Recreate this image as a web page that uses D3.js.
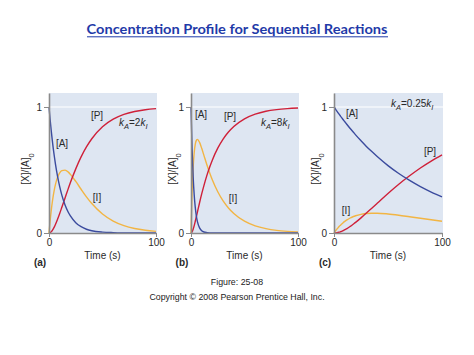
<!DOCTYPE html>
<html>
<head>
<meta charset="utf-8">
<script src="https://cdn.jsdelivr.net/npm/d3@7"></script>
<style>
  html, body { margin: 0; padding: 0; background: #fff; }
  svg { display: block; }
  text { font-family: "Liberation Sans", Arial, sans-serif; }
</style>
</head>
<body>
<svg id="chart" width="474" height="355"></svg>
<script>
// ---- data ----
const times = [0,1,2,3,4,5,6,8,10,12,15,18,20,25,30,35,40,50,60,70,80,90,100];

// panel (a): kA = 2kI
const aA = [1,0.905,0.819,0.741,0.670,0.607,0.549,0.449,0.368,0.301,0.223,0.165,0.135,0.082,0.050,0.030,0.018,0.007,0.003,0.001,0,0,0];
const aI = [0,0.093,0.172,0.240,0.297,0.345,0.384,0.442,0.477,0.495,0.499,0.483,0.465,0.409,0.347,0.287,0.234,0.151,0.095,0.059,0.036,0.022,0.013];
const aP = [0,0.002,0.009,0.019,0.033,0.049,0.067,0.109,0.155,0.204,0.278,0.352,0.400,0.509,0.604,0.683,0.748,0.843,0.903,0.941,0.964,0.978,0.987];

// panel (b): kA = 8kI
const bA = [1,0.670,0.449,0.301,0.202,0.135,0.091,0.041,0.018,0.008,0.003,0.001,0,0,0,0,0,0,0,0,0,0,0];
const bI = [0,0.321,0.521,0.639,0.705,0.735,0.743,0.719,0.672,0.618,0.537,0.464,0.420,0.327,0.255,0.199,0.155,0.094,0.057,0.035,0.021,0.013,0.008];
const bP = [0,0.009,0.030,0.059,0.093,0.129,0.166,0.240,0.310,0.374,0.461,0.535,0.580,0.673,0.745,0.801,0.845,0.906,0.943,0.966,0.979,0.987,0.992];

// panel (c): kA = 0.25kI
const cA = [1,0.988,0.975,0.963,0.951,0.939,0.928,0.905,0.883,0.861,0.829,0.799,0.779,0.732,0.687,0.646,0.607,0.535,0.472,0.417,0.368,0.325,0.287];
const cI = [0,0.012,0.024,0.034,0.044,0.054,0.062,0.078,0.092,0.104,0.119,0.131,0.137,0.148,0.155,0.157,0.157,0.151,0.141,0.129,0.117,0.105,0.093];
const cP = [0,0,0.001,0.003,0.005,0.007,0.010,0.017,0.026,0.035,0.052,0.071,0.084,0.120,0.158,0.197,0.236,0.314,0.387,0.454,0.516,0.571,0.620];

const panelLetters = ["(a)", "(b)", "(c)"];
const ratioLabels = ["2", "8", "0.25"];
const xTicks = [0, 100];
const yTicks = [0, 1];
const xTitle = "Time (s)";
const titleText = "Concentration Profile for Sequential Reactions";
const footer1 = "Figure: 25-08";
const footer2 = "Copyright \u00A9 2008 Pearson Prentice Hall, Inc.";

// ---- layout ----
const svg = d3.select("#chart");
const colA = "#3b4b9e", colI = "#f2b544", colP = "#cf2039";
const axisCol = "#8a8a8a", textCol = "#2a2a2a", bgCol = "#dee6f2";
const fs = "10px";

const panels = [
  { x0: 49,  x1: 156, ylab: 29,  A: aA, I: aI, P: aP,
    lab: { P: [97,119], K: [119,126], A: [62,147], I: [97,201] } },
  { x0: 191, x1: 298, ylab: 176, A: bA, I: bI, P: bP,
    lab: { P: [230,120], K: [261,126], A: [201,118], I: [233,202] } },
  { x0: 334, x1: 442, ylab: 319, A: cA, I: cI, P: cP,
    lab: { P: [430,155], K: [391,107], A: [352,117], I: [346,214] } }
];

// title
svg.append("text")
  .attr("x", 237).attr("y", 34)
  .attr("text-anchor", "middle")
  .style("font-family", "Lato, 'Open Sans', sans-serif")
  .style("font-weight", "bold")
  .style("font-size", "13.5px")
  .attr("fill", "#1f3aa8")
  .attr("textLength", 301)
  .attr("lengthAdjust", "spacingAndGlyphs")
  .text(titleText);
svg.append("line")
  .attr("x1", 87).attr("x2", 388).attr("y1", 36.8).attr("y2", 36.8)
  .attr("stroke", "#1f3aa8").attr("stroke-width", 1);

panels.forEach((p, i) => {
  const x = d3.scaleLinear().domain([0, 100]).range([p.x0, p.x1]);
  const y = d3.scaleLinear().domain([0, 1.111]).range([233, 93]);
  const g = svg.append("g");

  // background
  g.append("rect")
    .attr("x", x(0)).attr("y", y(1.111))
    .attr("width", x(100) - x(0) + 1).attr("height", y(0) - y(1.111))
    .attr("fill", bgCol);
  // white line at 1
  g.append("line")
    .attr("x1", x(0)).attr("x2", x(100) + 1)
    .attr("y1", y(1)).attr("y2", y(1))
    .attr("stroke", "#fff").attr("stroke-width", 1.2);

  // curves
  const mk = arr => d3.line()
    .x((d, j) => x(times[j]))
    .y(d => y(d))
    .curve(d3.curveMonotoneX)(arr);
  [[p.I, colI], [p.P, colP], [p.A, colA]].forEach(([arr, c]) => {
    g.append("path").attr("d", mk(arr))
      .attr("fill", "none").attr("stroke", c).attr("stroke-width", 1.4);
  });

  // axes
  const ax = g.append("g").attr("transform", `translate(0,${y(0)})`)
    .call(d3.axisBottom(x).tickValues(xTicks).tickSize(4).tickSizeOuter(0).tickPadding(2));
  const ay = g.append("g").attr("transform", `translate(${x(0)},0)`)
    .call(d3.axisLeft(y).tickValues(yTicks).tickSize(5).tickSizeOuter(0).tickPadding(2)
      .tickFormat(d3.format("d")));
  [ax, ay].forEach(a => {
    a.select(".domain").attr("stroke", axisCol).attr("stroke-width", 1.6);
    a.selectAll(".tick line").attr("stroke", axisCol).attr("stroke-width", 1);
    a.selectAll(".tick text").attr("fill", textCol)
      .style("font-size", fs).style("font-family", "'Liberation Sans', Arial, sans-serif");
  });

  // x title
  g.append("text")
    .attr("x", (x(0) + x(100)) / 2).attr("y", 259)
    .attr("text-anchor", "middle").attr("fill", textCol)
    .style("font-size", fs).text(xTitle);

  // y title
  const yt = g.append("text")
    .attr("transform", `translate(${p.ylab},169) rotate(-90)`)
    .attr("text-anchor", "middle").attr("fill", textCol)
    .style("font-size", fs);
  yt.append("tspan").text("[X]/[A]");
  yt.append("tspan").attr("baseline-shift", "sub").style("font-size", "7.5px").text("0");

  // panel letter
  g.append("text")
    .attr("x", x(0) - 9).attr("y", 266)
    .attr("text-anchor", "middle").attr("fill", textCol)
    .style("font-size", fs).style("font-weight", "bold")
    .text(panelLetters[i]);

  // curve labels
  const lab = (pos, t) => g.append("text")
    .attr("x", pos[0]).attr("y", pos[1]).attr("text-anchor", "middle")
    .attr("fill", textCol).style("font-size", fs).text(t);
  lab(p.lab.P, "[P]");
  lab(p.lab.A, "[A]");
  lab(p.lab.I, "[I]");

  const k = g.append("text")
    .attr("x", p.lab.K[0]).attr("y", p.lab.K[1])
    .attr("fill", textCol).style("font-size", fs);
  k.append("tspan").style("font-style", "italic").text("k");
  k.append("tspan").style("font-style", "italic").style("font-size", "7.5px").attr("dy", 2.5).text("A");
  k.append("tspan").attr("dy", -2.5).text("=" + ratioLabels[i]);
  k.append("tspan").style("font-style", "italic").text("k");
  k.append("tspan").style("font-style", "italic").style("font-size", "7.5px").attr("dy", 2.5).text("I");
});

// footer
svg.append("text").attr("x", 237).attr("y", 285)
  .attr("text-anchor", "middle").attr("fill", "#222")
  .style("font-size", "8.8px").text(footer1);
svg.append("text").attr("x", 237).attr("y", 300)
  .attr("text-anchor", "middle").attr("fill", "#222")
  .style("font-size", "8.8px").text(footer2);
</script>
</body>
</html>
